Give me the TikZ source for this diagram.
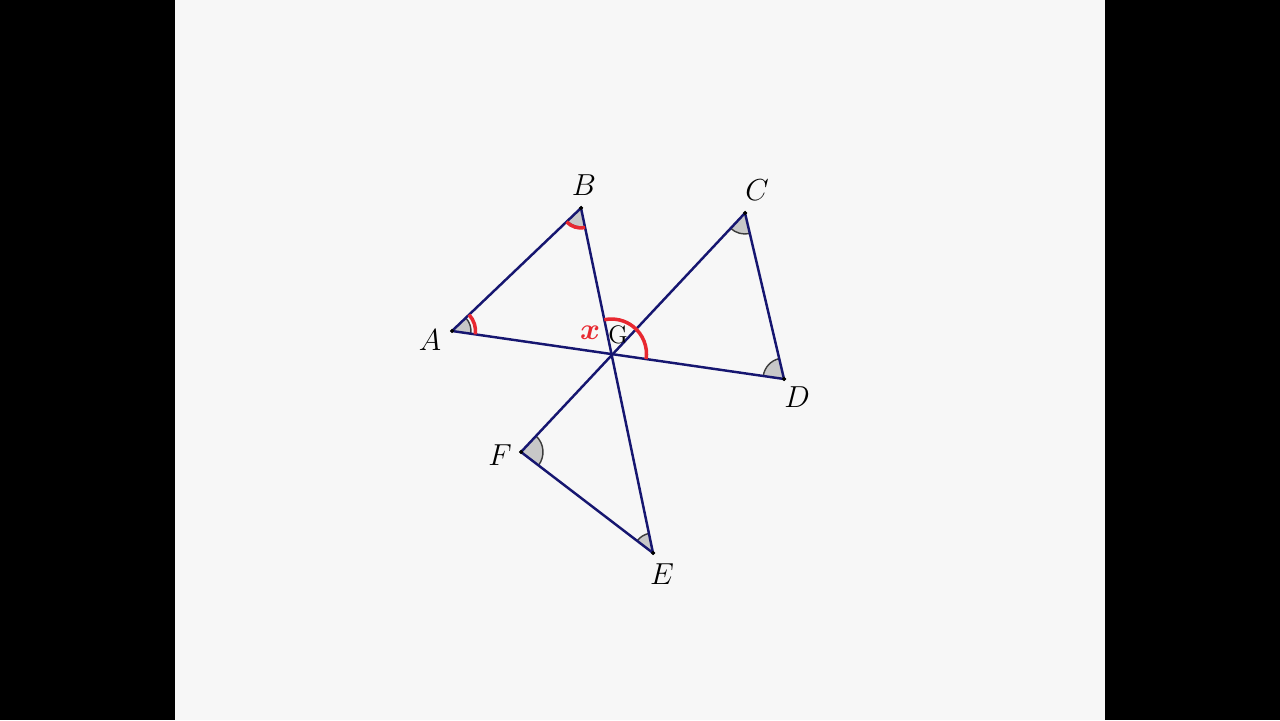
\documentclass[tikz,border=0pt]{standalone}
\usepackage{amsmath}
\usepackage{xcolor}
\usetikzlibrary{angles,calc}
\definecolor{seg}{RGB}{22, 22, 112}
\definecolor{mark}{RGB}{200, 200, 200}
\definecolor{markline}{RGB}{60, 60, 60}
\definecolor{hand}{RGB}{232, 40, 48}
\definecolor{slide}{RGB}{247, 247, 247}

\begin{document}
\begin{tikzpicture}
        \useasboundingbox (0,0) rectangle (25.6,14.4);
        \fill[black] (0,0) rectangle (25.6,14.4);
        \fill[slide] (3.5,0) rectangle (22.1,14.4);
        \coordinate (A) at (9.04, 7.78);
        \coordinate (B) at (11.62, 10.24);
        \coordinate (C) at (14.90, 10.14);
        \coordinate (D) at (15.68, 6.82);
        \coordinate (E) at (13.06, 3.34);
        \coordinate (F) at (10.42, 5.36);
        \coordinate (G) at (intersection of A--D and B--E);
        \pic[fill=mark, draw=markline, thick, angle radius=0.38cm] {angle = D--A--B};
        \pic[fill=mark, draw=markline, thick, angle radius=0.38cm] {angle = A--B--E};
        \pic[fill=mark, draw=markline, thick, angle radius=0.42cm] {angle = F--C--D};
        \pic[fill=mark, draw=markline, thick, angle radius=0.42cm] {angle = C--D--A};
        \pic[fill=mark, draw=markline, thick, angle radius=0.4cm] {angle = B--E--F};
        \pic[fill=mark, draw=markline, thick, angle radius=0.44cm] {angle = E--F--C};
        \draw[seg, line width=1.4pt] (A)--(B);
        \draw[seg, line width=1.4pt] (B)--(E);
        \draw[seg, line width=1.4pt] (E)--(F);
        \draw[seg, line width=1.4pt] (F)--(C);
        \draw[seg, line width=1.4pt] (C)--(D);
        \draw[seg, line width=1.4pt] (D)--(A);
        \filldraw[black] (A) circle (0.035);
        \filldraw[black] (B) circle (0.035);
        \filldraw[black] (C) circle (0.035);
        \filldraw[black] (D) circle (0.035);
        \filldraw[black] (E) circle (0.035);
        \filldraw[black] (F) circle (0.035);
        \pic[draw=hand, line width=2pt, angle radius=0.47cm] {angle = D--A--B};
        \pic[draw=hand, line width=2pt, angle radius=0.4cm] {angle = A--B--E};
        \pic[draw=hand, line width=2pt, angle radius=0.7cm] {angle = D--G--B};
        \node(a) at (8.6, 7.6) {\LARGE $A$};
        \node(b) at (11.68, 10.7) {\LARGE $B$};
        \node(c) at (15.14, 10.6) {\LARGE $C$};
        \node(d) at (15.94, 6.46) {\LARGE $D$};
        \node(e) at (13.24, 2.92) {\LARGE $E$};
        \node(f) at (10.0, 5.3) {\LARGE $F$};
        \node(g) at (12.36, 7.7) {\Large G};
        \node(x) at (11.8, 7.74) {\LARGE \color{hand}$\boldsymbol{x}$};
    \end{tikzpicture}
\end{document}
